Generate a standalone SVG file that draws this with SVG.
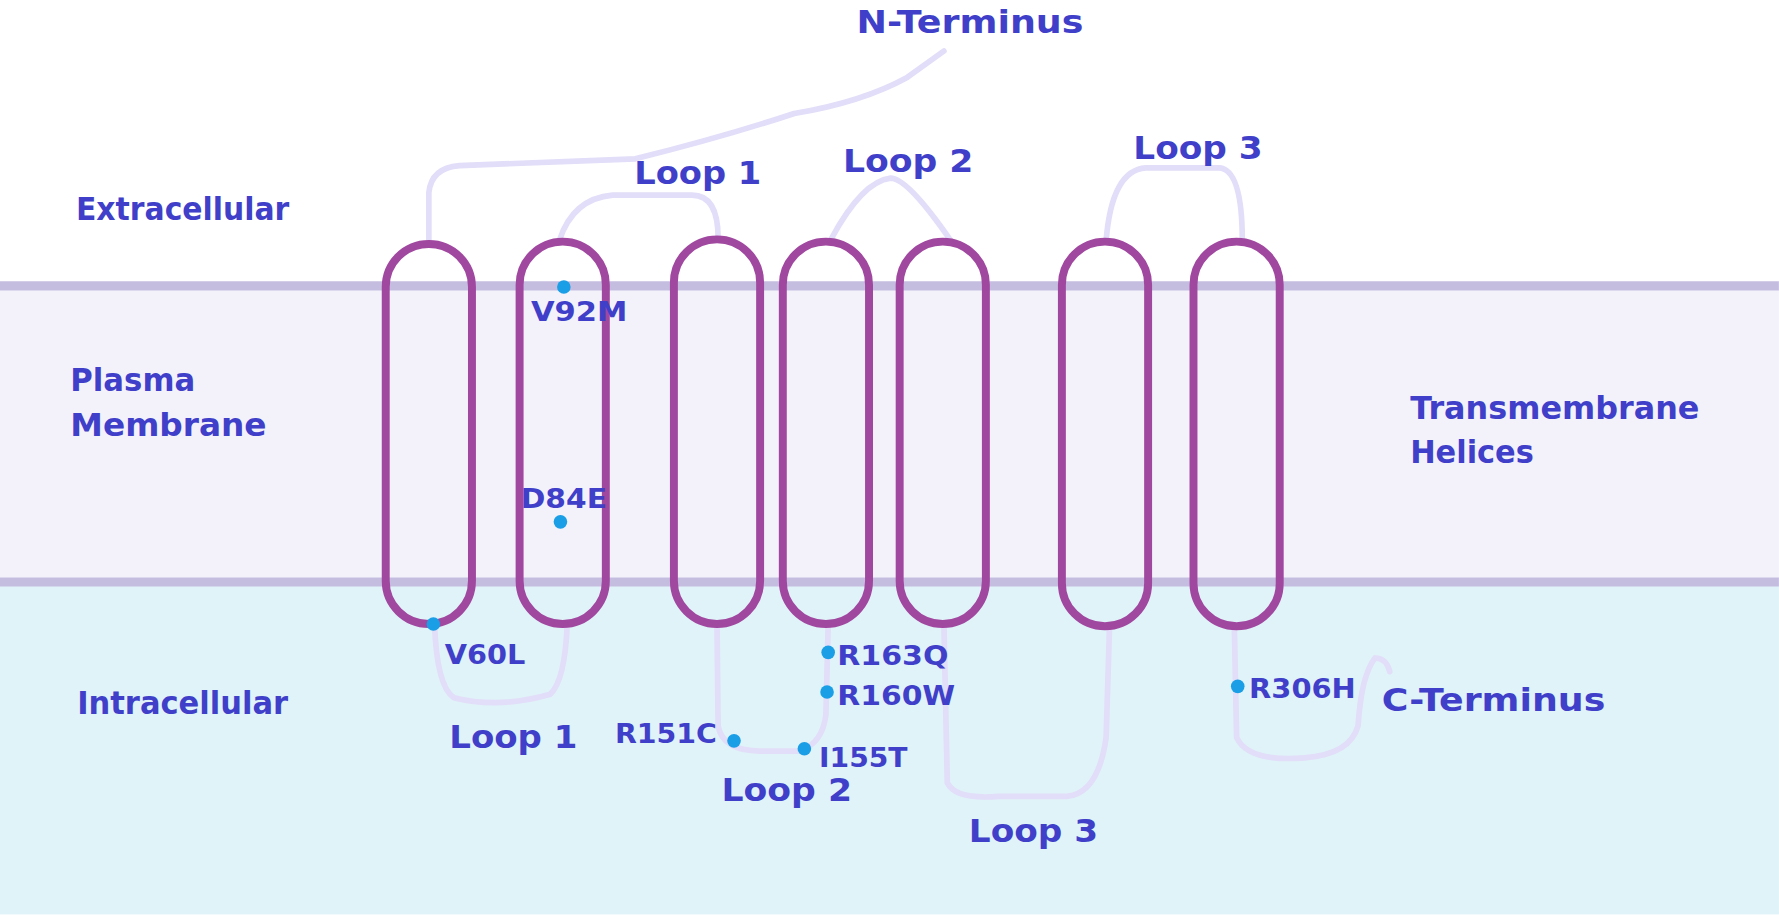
<svg xmlns="http://www.w3.org/2000/svg" width="1779" height="916" viewBox="0 0 1779 916">
<style>
.h{fill:none;stroke:#a0479f;stroke-width:7}
.l{fill:none;stroke:#e2ddf8;stroke-width:5;stroke-linecap:round}
.t{font-family:"DejaVu Sans","Liberation Sans",sans-serif;font-weight:bold;fill:#3f3fc9;font-size:28px}
.m{font-family:"DejaVu Sans","Liberation Sans",sans-serif;font-weight:bold;fill:#3f3fc9;font-size:24px}
.d{fill:#1a9ee6}
</style>
<g transform="scale(1.1345)">
<g id="background">
<rect x="0" y="0" width="1568" height="808" fill="#ffffff"/>
<rect x="0" y="252" width="1568" height="262" fill="#f3f2fb"/>
<rect x="0" y="514" width="1568" height="292" fill="#e0f3f9"/>
<line x1="0" y1="252" x2="1568" y2="252" stroke="#c5bde0" stroke-width="8"/>
<line x1="0" y1="513" x2="1568" y2="513" stroke="#c5bde0" stroke-width="8"/>
</g>
<g id="connectors">
<path class="l" d="M378,213 L378,170 Q380,148 405,146 L560,140 Q640,120 700,100 Q760,90 800,68 L832,45"/>
<path class="l" d="M493,212 Q505,175 540,172 L610,172 Q633,172 633,210"/>
<path class="l" d="M733,210 Q760,160 785,157 Q800,157 838,212"/>
<path class="l" d="M975,212 Q980,150 1010,148 L1075,148 Q1095,150 1095,212"/>
<path class="l" d="M383,550 Q385,605 400,615 Q440,625 485,612 Q498,600 500,550"/>
<path class="l" d="M632,550 L633,640 Q637,662 670,662 L705,662 Q725,655 728,630 L730,550"/>
<path class="l" d="M832,550 L835,690 Q842,705 880,702 L940,702 Q968,700 975,650 L978,552"/>
<path class="l" d="M1088,552 L1090,650 Q1100,672 1150,668 Q1190,665 1197,640 Q1200,595 1212,580 Q1222,580 1225,592"/>
</g>
<g id="helices">
<rect id="tm1" class="h" x="340" y="215" width="76" height="335" rx="38"/>
<rect id="tm2" class="h" x="458" y="213" width="76" height="337" rx="38"/>
<rect id="tm3" class="h" x="594" y="211" width="76" height="339" rx="38"/>
<rect id="tm4" class="h" x="690" y="213" width="76" height="337" rx="38"/>
<rect id="tm5" class="h" x="793" y="213" width="76" height="337" rx="38"/>
<rect id="tm6" class="h" x="936" y="213" width="76" height="339" rx="38"/>
<rect id="tm7" class="h" x="1052" y="213" width="76" height="339" rx="38"/>
</g>
<g id="labels">
<text class="t" x="755" y="29" textLength="200" lengthAdjust="spacingAndGlyphs">N-Terminus</text>
<text class="t" x="67" y="194" textLength="188" lengthAdjust="spacingAndGlyphs">Extracellular</text>
<text class="t" x="62" y="345" textLength="110" lengthAdjust="spacingAndGlyphs">Plasma</text>
<text class="t" x="62" y="384" textLength="173" lengthAdjust="spacingAndGlyphs">Membrane</text>
<text class="t" x="68" y="629" textLength="186" lengthAdjust="spacingAndGlyphs">Intracellular</text>
<text class="t" x="1243" y="369" textLength="255" lengthAdjust="spacingAndGlyphs">Transmembrane</text>
<text class="t" x="1243" y="408" textLength="109" lengthAdjust="spacingAndGlyphs">Helices</text>
<text class="t" x="559" y="162" textLength="112" lengthAdjust="spacingAndGlyphs">Loop 1</text>
<text class="t" x="743" y="152" textLength="115" lengthAdjust="spacingAndGlyphs">Loop 2</text>
<text class="t" x="999" y="140" textLength="114" lengthAdjust="spacingAndGlyphs">Loop 3</text>
<text class="t" x="396" y="659" textLength="113" lengthAdjust="spacingAndGlyphs">Loop 1</text>
<text class="t" x="636" y="706" textLength="115" lengthAdjust="spacingAndGlyphs">Loop 2</text>
<text class="t" x="854" y="742" textLength="114" lengthAdjust="spacingAndGlyphs">Loop 3</text>
<text class="t" x="1218" y="627" textLength="197" lengthAdjust="spacingAndGlyphs">C-Terminus</text>
</g>
<g id="mutations">
<circle class="d" cx="497" cy="253" r="6"/><text class="m" x="468" y="283" textLength="85" lengthAdjust="spacingAndGlyphs">V92M</text>
<circle class="d" cx="494" cy="460" r="6"/><text class="m" x="459" y="448" textLength="76" lengthAdjust="spacingAndGlyphs">D84E</text>
<circle class="d" cx="382" cy="550" r="6"/><text class="m" x="392" y="585" textLength="71" lengthAdjust="spacingAndGlyphs">V60L</text>
<circle class="d" cx="730" cy="575" r="6"/><text class="m" x="738" y="586" textLength="98" lengthAdjust="spacingAndGlyphs">R163Q</text>
<circle class="d" cx="729" cy="610" r="6"/><text class="m" x="738" y="621" textLength="104" lengthAdjust="spacingAndGlyphs">R160W</text>
<circle class="d" cx="647" cy="653" r="6"/><text class="m" x="542" y="655" textLength="90" lengthAdjust="spacingAndGlyphs">R151C</text>
<circle class="d" cx="709" cy="660" r="6"/><text class="m" x="722" y="676" textLength="78" lengthAdjust="spacingAndGlyphs">I155T</text>
<circle class="d" cx="1091" cy="605" r="6"/><text class="m" x="1101" y="615" textLength="94" lengthAdjust="spacingAndGlyphs">R306H</text>
</g>
</g>
</svg>
